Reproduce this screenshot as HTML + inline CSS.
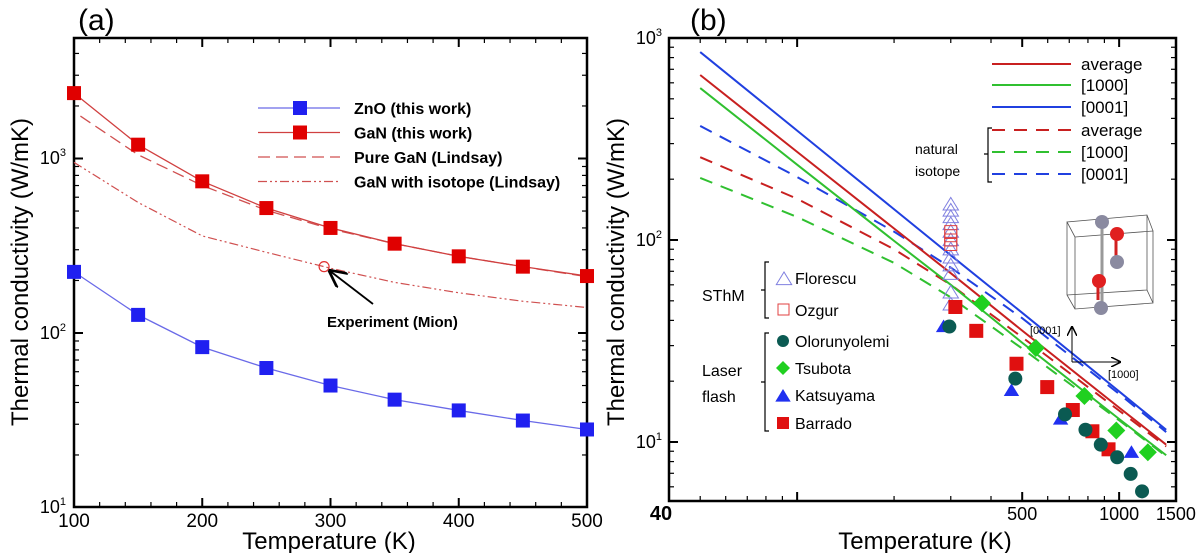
<!DOCTYPE html>
<html><head><meta charset="utf-8"><style>
body{margin:0;background:#fff}
svg{display:block;font-family:"Liberation Sans",sans-serif}
</style></head><body>
<svg id="s" width="1200" height="553" viewBox="0 0 1200 553" xmlns="http://www.w3.org/2000/svg">
<defs><marker id="ah" markerWidth="10" markerHeight="10" refX="9" refY="5" orient="auto"><path d="M0,0 L10,5 L0,10" fill="none" stroke="#000" stroke-width="1.5"/></marker></defs>
<g id="ga"></g>
<g id="gb"></g>
</svg>
<script>
// ---- Panel (a) data ----
const aTemps=[100,150,200,250,300,350,400,450,500];
const aZnO=[224,127,83,63,50,41.5,36,31.5,28];
const aGaN=[2370,1200,740,520,400,325,275,240,212];
const aPureT=[105,150,200,250,300,350,400,450,500];
const aPure=[1750,1050,700,505,395,325,275,240,210];
const aIsoT=[100,150,200,250,300,350,400,450,500];
const aIso=[950,560,360,290,235,195,170,152,140];
const aExpT=[295];const aExp=[240];
const aXTicks=[100,200,300,400,500];
// ---- Panel (b) data ----
const bT=[50,100,200,300,500,1000,1400];
const bAvg=[656,273,114,68.5,35.6,14.8,9.7];
const b1000=[565,236,99,60,31,13,8.6];
const b0001=[852,348,142,84,43.6,17.8,11.5];
const bAvgIso=[257,160,90,60,33,14.3,9.5];
const b1000Iso=[203,130,77,52,29,12.8,8.5];
const b0001Iso=[367,205,110,73,41,17.3,11.2];
const floT=[300,300,300,300,300,300,300,300,300,300,300,300];
const floK=[150,140,130,120,110,100,90,82,75,68,55,48];
const ozT=[300,300,300,300];const ozK=[95,100,105,110];
const oloT=[297,476,679,786,877,986,1086,1178];
const oloK=[37.3,20.6,13.7,11.5,9.7,8.4,6.95,5.7];
const tsuT=[375,551,780,980,1228];
const tsuK=[48.6,29.2,16.9,11.4,8.9];
const katT=[285,463,658,1092];
const katK=[37.3,18,13,8.9];
const barT=[310,360,480,598,718,826,927];
const barK=[46.6,35.5,24.4,18.7,14.4,11.3,9.2];
const bXLabels=["40","500","1000","1500"];const bXLabelT=[40,500,1000,1500];

const NS="http://www.w3.org/2000/svg";
function mk(p,tag,at,txt){const e=document.createElementNS(NS,tag);for(const k in at)e.setAttribute(k,at[k]);if(txt!==undefined)e.textContent=txt;p.appendChild(e);return e;}
const ga=document.getElementById('ga'),gb=document.getElementById('gb');
// axes a
const axL=74,axR=587,axT=38,axB=507;
const xa=t=>axL+(t-100)*(axR-axL)/400;
const ya=k=>333-(Math.log10(k)-2)*174.5;
// axes b
const bxL=669,bxR=1176,byT=38,byB=501;
const xb=t=>bxL+Math.log10(t/40)*322;
const yb=k=>38+(3-Math.log10(k))*202;

// ---- panel a frame ----
let r=mk(ga,'rect',{x:axL,y:axT,width:axR-axL,height:axB-axT,fill:'none',stroke:'#000','stroke-width':2.5});

for(let t=100;t<=500;t+=20){const maj=t%100===0;const L=maj?9:5;
 mk(ga,'line',{x1:xa(t),x2:xa(t),y1:axB,y2:axB-L,stroke:'#000','stroke-width':maj?2:1.2});
 mk(ga,'line',{x1:xa(t),x2:xa(t),y1:axT,y2:axT+L,stroke:'#000','stroke-width':maj?2:1.2});}
for(let d=10;d<=1000;d*=10){for(let m=1;m<10;m++){const k=d*m;const y=ya(k);if(y<axT||y>axB)continue;const L=m===1?9:5;
 mk(ga,'line',{x1:axL,x2:axL+L,y1:y,y2:y,stroke:'#000','stroke-width':m===1?2:1.2});
 mk(ga,'line',{x1:axR,x2:axR-L,y1:y,y2:y,stroke:'#000','stroke-width':m===1?2:1.2});}}
aXTicks.forEach(t=>{const e=mk(ga,'text',{x:xa(t),y:527,'font-size':19,'text-anchor':'middle'},String(t));
 });
[[1,507],[2,333],[3,158]].forEach(([p,y])=>{const e=mk(ga,'text',{x:66,y:y+6,'font-size':18,'text-anchor':'end'});
 
 mk(e,'tspan',{},'10');mk(e,'tspan',{dy:-8,'font-size':11},String(p));});
let e=mk(ga,'text',{x:329,y:549,'font-size':24,'text-anchor':'middle'},'Temperature (K)');

e=mk(ga,'text',{x:0,y:0,'font-size':24,'text-anchor':'middle',transform:'translate(28,272) rotate(-90)'},'Thermal conductivity (W/mK)');

e=mk(ga,'text',{x:78,y:30,'font-size':30},'(a)');


function poly(g,T,K,fx,fy,st,name){const p=mk(g,'polyline',Object.assign({points:T.map((t,i)=>fx(t)+','+fy(K[i])).join(' '),fill:'none'},st));
 return p;}
poly(ga,aIsoT,aIso,xa,ya,{stroke:'#d05050','stroke-width':1.2,'stroke-dasharray':'9 3 2 3 2 3'},'gan-isotope-lindsay-line');
poly(ga,aPureT,aPure,xa,ya,{stroke:'#d05050','stroke-width':1.3,'stroke-dasharray':'12 6'},'pure-gan-lindsay-line');
poly(ga,aTemps,aGaN,xa,ya,{stroke:'#d04040','stroke-width':1.3},'gan-line');
poly(ga,aTemps,aZnO,xa,ya,{stroke:'#6a6ae8','stroke-width':1.3},'zno-line');
aTemps.forEach((t,i)=>{let q=mk(ga,'rect',{x:xa(t)-7,y:ya(aGaN[i])-7,width:14,height:14,fill:'#e00000'});
 
 q=mk(ga,'rect',{x:xa(t)-7,y:ya(aZnO[i])-7,width:14,height:14,fill:'#2020f0'});
 });
aExpT.forEach((t,i)=>{const c=mk(ga,'circle',{cx:xa(t),cy:ya(aExp[i]),r:5,fill:'none',stroke:'#e03030','stroke-width':1.2});
 });
e=mk(ga,'line',{x1:373,y1:304,x2:330,y2:271,stroke:'#000','stroke-width':1.8,'marker-end':'url(#ah)'});

e=mk(ga,'text',{x:327,y:327,'font-size':15,'font-weight':'bold'},'Experiment (Mion)');

// legend a
const legA=[['ZnO (this work)','#6a6ae8',null,'#2020f0'],['GaN (this work)','#d04040',null,'#e00000'],['Pure GaN (Lindsay)','#d05050','12 6',null],['GaN with isotope (Lindsay)','#d05050','9 3 2 3 2 3',null]];
legA.forEach((l,i)=>{const y=108+i*24.5;const g=mk(ga,'g',{});
 const a={x1:258,x2:340,y1:y,y2:y,stroke:l[1],'stroke-width':1.3};if(l[2])a['stroke-dasharray']=l[2];mk(g,'line',a);
 if(l[3])mk(g,'rect',{x:293,y:y-7,width:14,height:14,fill:l[3]});
 mk(g,'text',{x:354,y:y+6,'font-size':16,'font-weight':'bold'},l[0]);});

// ---- panel b frame ----
r=mk(gb,'rect',{x:bxL,y:byT,width:bxR-bxL,height:byB-byT,fill:'none',stroke:'#000','stroke-width':2.5});

for(let d=10;d<=1000;d*=10){for(let m=1;m<10;m++){const t=d*m;if(t<40||t>1500)continue;const x=xb(t);const maj=(m===1&&d>=100)||t===500;const L=maj?9:5;
 mk(gb,'line',{x1:x,x2:x,y1:byB,y2:byB-L,stroke:'#000','stroke-width':maj?2:1.2});
 mk(gb,'line',{x1:x,x2:x,y1:byT,y2:byT+L,stroke:'#000','stroke-width':maj?2:1.2});}}
for(let d=1;d<=1000;d*=10){for(let m=1;m<10;m++){const k=d*m;const y=yb(k);if(y<byT-1||y>byB)continue;const L=m===1?9:5;
 mk(gb,'line',{x1:bxL,x2:bxL+L,y1:y,y2:y,stroke:'#000','stroke-width':m===1?2:1.2});
 mk(gb,'line',{x1:bxR,x2:bxR-L,y1:y,y2:y,stroke:'#000','stroke-width':m===1?2:1.2});}}
bXLabelT.forEach((t,i)=>{const e=mk(gb,'text',{x:xb(t)+(i===0?-8:0),y:520,'font-size':i===0?20:18,'font-weight':i===0?'bold':'normal','text-anchor':'middle'},bXLabels[i]);
 });
[[3,38],[2,240],[1,442]].forEach(([p,y])=>{const e=mk(gb,'text',{x:662,y:y+6,'font-size':18,'text-anchor':'end'});
 
 mk(e,'tspan',{},'10');mk(e,'tspan',{dy:-8,'font-size':11},String(p));});
e=mk(gb,'text',{x:925,y:549,'font-size':24,'text-anchor':'middle'},'Temperature (K)');

e=mk(gb,'text',{x:0,y:0,'font-size':24,'text-anchor':'middle',transform:'translate(624,272) rotate(-90)'},'Thermal conductivity (W/mK)');

e=mk(gb,'text',{x:690,y:30,'font-size':30},'(b)');


const RED='#c82020',GRN='#30c030',BLU='#2040e0';
poly(gb,bT,bAvgIso,xb,yb,{stroke:RED,'stroke-width':2,'stroke-dasharray':'13 9'},'average-isotope-line');
poly(gb,bT,b1000Iso,xb,yb,{stroke:GRN,'stroke-width':2,'stroke-dasharray':'13 9'},'1000-isotope-line');
poly(gb,bT,b0001Iso,xb,yb,{stroke:BLU,'stroke-width':2,'stroke-dasharray':'13 9'},'0001-isotope-line');
poly(gb,bT,bAvg,xb,yb,{stroke:RED,'stroke-width':2},'average-line');
poly(gb,bT,b1000,xb,yb,{stroke:GRN,'stroke-width':2},'1000-line');
poly(gb,bT,b0001,xb,yb,{stroke:BLU,'stroke-width':2},'0001-line');
function tri(g,cx,cy,s,at){return mk(g,'polygon',Object.assign({points:`${cx},${cy-s} ${cx-s*1.1},${cy+s*0.8} ${cx+s*1.1},${cy+s*0.8}`},at));}
floT.forEach((t,i)=>{const p=tri(gb,xb(t),yb(floK[i]),7,{fill:'none',stroke:'#8080e0','stroke-width':1});
 });
ozT.forEach((t,i)=>{const p=mk(gb,'rect',{x:xb(t)-6,y:yb(ozK[i])-6,width:12,height:12,fill:'none',stroke:'#e04040','stroke-width':1});
 });
katT.forEach((t,i)=>{const p=tri(gb,xb(t),yb(katK[i]),7,{fill:'#2030f0'});
 });
barT.forEach((t,i)=>{const p=mk(gb,'rect',{x:xb(t)-7,y:yb(barK[i])-7,width:14,height:14,fill:'#e01010'});
 });
oloT.forEach((t,i)=>{const p=mk(gb,'circle',{cx:xb(t),cy:yb(oloK[i]),r:7,fill:'#0b5a52'});
 });
tsuT.forEach((t,i)=>{const x=xb(t),y=yb(tsuK[i]);const p=mk(gb,'polygon',{points:`${x},${y-9} ${x+9},${y} ${x},${y+9} ${x-9},${y}`,fill:'#20d020'});
 });

// legend b (lines)
const legB=[['average',RED,null],['[1000]',GRN,null],['[0001]',BLU,null],['average',RED,'13 9'],['[1000]',GRN,'13 9'],['[0001]',BLU,'13 9']];
legB.forEach((l,i)=>{const y=[64,85,107,130,152,174][i];const g=mk(gb,'g',{});
 const a={x1:992,x2:1071,y1:y,y2:y,stroke:l[1],'stroke-width':2};if(l[2])a['stroke-dasharray']=l[2];mk(g,'line',a);
 mk(g,'text',{x:1081,y:y+6,'font-size':17},l[0]);});
e=mk(gb,'text',{x:915,y:154,'font-size':14},'natural');
mk(gb,'text',{x:915,y:176,'font-size':14},'isotope');
mk(gb,'path',{d:'M992,128 h-4 v26 h-4 h4 v28 h4',fill:'none',stroke:'#000','stroke-width':1.2});
// left legend b
function brk(x,y1,y2){const m=(y1+y2)/2;mk(gb,'path',{d:`M${x+4},${y1} h-4 v${m-y1} h-4 h4 v${y2-m} h4`,fill:'none',stroke:'#000','stroke-width':1.2});}
e=mk(gb,'text',{x:702,y:301,'font-size':16},'SThM');
brk(765,262,318);
let g=mk(gb,'g',{});
tri(g,784,279,7,{fill:'none',stroke:'#8080e0','stroke-width':1});mk(g,'text',{x:795,y:284,'font-size':16},'Florescu');
g=mk(gb,'g',{});
mk(g,'rect',{x:778,y:304,width:11,height:11,fill:'none',stroke:'#e04040'});mk(g,'text',{x:795,y:316,'font-size':16},'Ozgur');
e=mk(gb,'text',{x:702,y:376,'font-size':16},'Laser');
mk(gb,'text',{x:702,y:402,'font-size':16},'flash');
brk(765,333,431);
g=mk(gb,'g',{});
mk(g,'circle',{cx:783,cy:341,r:6,fill:'#0b5a52'});mk(g,'text',{x:795,y:347,'font-size':16},'Olorunyolemi');
g=mk(gb,'g',{});
mk(g,'polygon',{points:'783,361 790,368 783,375 776,368',fill:'#20d020'});mk(g,'text',{x:795,y:374,'font-size':16},'Tsubota');
g=mk(gb,'g',{});
tri(g,783,396,7,{fill:'#2030f0'});mk(g,'text',{x:795,y:401,'font-size':16},'Katsuyama');
g=mk(gb,'g',{});
mk(g,'rect',{x:777,y:417,width:12,height:12,fill:'#e01010'});mk(g,'text',{x:795,y:429,'font-size':16},'Barrado');
// inset crystal
g=mk(gb,'g',{});
mk(g,'path',{d:'M1075,237 L1153,231 L1153,303 L1075,309 Z M1075,237 L1067,222 L1147,215 L1153,231 M1067,222 L1067,295 L1075,309 M1147,215 L1147,290 L1153,303 M1067,295 L1147,290',fill:'none',stroke:'#555','stroke-width':0.8});
mk(g,'line',{x1:1102,y1:222,x2:1102,y2:308,stroke:'#999','stroke-width':3});
mk(g,'line',{x1:1116,y1:232,x2:1116,y2:262,stroke:'#d02020','stroke-width':3});
mk(g,'line',{x1:1098,y1:280,x2:1098,y2:300,stroke:'#d02020','stroke-width':3});
[[1102,222,'#8a8aa0'],[1117,234,'#e02020'],[1117,262,'#8a8aa0'],[1099,281,'#e02020'],[1101,308,'#8a8aa0']].forEach(([x,y,c])=>mk(g,'circle',{cx:x,cy:y,r:7,fill:c}));
mk(g,'line',{x1:1072,y1:362,x2:1072,y2:327,stroke:'#000','stroke-width':1,'marker-end':'url(#ah)'});
mk(g,'line',{x1:1072,y1:362,x2:1120,y2:362,stroke:'#000','stroke-width':1,'marker-end':'url(#ah)'});
mk(g,'text',{x:1030,y:334,'font-size':11},'[0001]');
mk(g,'text',{x:1108,y:378,'font-size':11},'[1000]');
</script>
</body></html>
